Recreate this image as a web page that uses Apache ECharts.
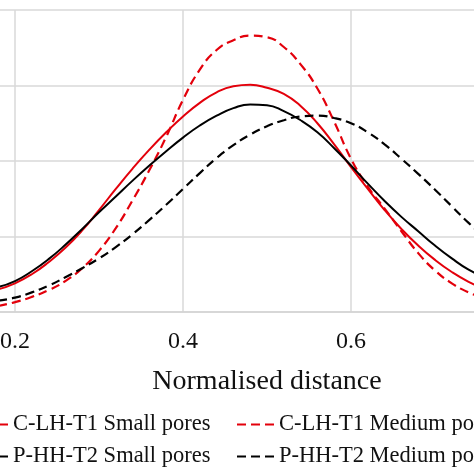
<!DOCTYPE html>
<html>
<head>
<meta charset="utf-8">
<script src="https://cdn.jsdelivr.net/npm/echarts@6/dist/echarts.min.js"></script>
<style>
  html, body { margin: 0; padding: 0; background: #fff; overflow: hidden; }
  #wrap { position: relative; width: 474px; height: 474px; overflow: hidden; }
  /* chart is wider than the window: the picture is a crop of it */
  #echartDom { position: absolute; left: -200px; top: 0; width: 950px; height: 474px; }
</style>
</head>
<body>
<div id="wrap"><div id="echartDom"></div></div>
<script>
// normalised distance
const xValues = [0.18, 0.20, 0.22, 0.24, 0.26, 0.28, 0.30, 0.32, 0.34, 0.36,
                 0.38, 0.40, 0.42, 0.44, 0.46, 0.48, 0.50, 0.52, 0.54, 0.56,
                 0.58, 0.60, 0.62, 0.64, 0.66, 0.68, 0.70, 0.72, 0.74, 0.76];
const clhSmall  = [0.30, 0.38, 0.50, 0.66, 0.85, 1.08, 1.35, 1.63, 1.90, 2.15,
                   2.38, 2.59, 2.77, 2.91, 2.99, 3.01, 2.97, 2.89, 2.73, 2.50,
                   2.22, 1.92, 1.63, 1.35, 1.10, 0.88, 0.69, 0.53, 0.40, 0.30];
const clhMedium = [0.08, 0.13, 0.20, 0.29, 0.41, 0.58, 0.81, 1.11, 1.48, 1.88,
                   2.32, 2.81, 3.21, 3.47, 3.60, 3.66, 3.64, 3.51, 3.28, 2.96,
                   2.52, 2.03, 1.66, 1.37, 1.07, 0.78, 0.55, 0.38, 0.26, 0.18];
const phhSmall  = [0.33, 0.41, 0.54, 0.70, 0.89, 1.10, 1.32, 1.53, 1.74, 1.94,
                   2.13, 2.31, 2.47, 2.60, 2.70, 2.75, 2.74, 2.66, 2.54, 2.38,
                   2.17, 1.94, 1.70, 1.47, 1.26, 1.07, 0.88, 0.71, 0.56, 0.45];
const phhMedium = [0.15, 0.19, 0.26, 0.35, 0.46, 0.58, 0.71, 0.86, 1.03, 1.22,
                   1.42, 1.63, 1.84, 2.04, 2.21, 2.35, 2.46, 2.54, 2.59, 2.60,
                   2.57, 2.50, 2.38, 2.22, 2.03, 1.83, 1.62, 1.40, 1.18, 0.98];

const seriesNames = ['C-LH-T1 Small pores', 'C-LH-T1 Medium pores',
                     'P-HH-T2 Small pores', 'P-HH-T2 Medium pores'];

const RED = '#e3000b';
const BLACK = '#000000';
const FONT = '"Liberation Serif", "Times New Roman", serif';
const DASH = [9, 5];

function pairs(ys) {
  return xValues.map((x, i) => [x, ys[i]]);
}

function lineSeries(name, ys, color, dashed) {
  return {
    name: name,
    type: 'line',
    data: pairs(ys),
    smooth: 0.5,
    symbol: 'none',
    itemStyle: { color: color },
    lineStyle: { color: color, width: dashed ? 2.2 : 2, type: dashed ? DASH : 'solid' }
  };
}

function legendAt(name, left, top) {
  return {
    data: [name],
    left: left, top: top,
    padding: 0,
    itemWidth: 37, itemHeight: 14,
    itemStyle: { opacity: 0 },   // line only, no dot in the icon
    textStyle: { fontFamily: FONT, fontSize: 22.5, color: '#111' }
  };
}

const chart = echarts.init(document.getElementById('echartDom'));

const option = {
  animation: false,
  backgroundColor: '#fff',
  grid: { left: 47, width: 840, top: 10, height: 302 },
  legend: [
    legendAt(seriesNames[0], 170, 413),
    legendAt(seriesNames[1], 436, 413),
    legendAt(seriesNames[2], 170, 445),
    legendAt(seriesNames[3], 436, 445)
  ],
  xAxis: {
    type: 'value',
    min: 0, max: 1, interval: 0.2,
    name: 'Normalised distance',
    nameLocation: 'middle',
    nameGap: 56,
    nameTextStyle: { fontFamily: FONT, fontSize: 28, color: '#111' },
    axisLine: { lineStyle: { color: '#d4d4d4', width: 1.5 } },
    axisTick: { show: false },
    axisLabel: { fontFamily: FONT, fontSize: 24, color: '#111', margin: 18,
                 formatter: v => v.toFixed(1) },
    splitLine: { show: true, lineStyle: { color: '#d9d9d9', width: 1.5 } }
  },
  yAxis: {
    type: 'value',
    min: 0, max: 4, interval: 1,
    axisLine: { show: false },
    axisTick: { show: false },
    axisLabel: { show: false },
    splitLine: { show: true, lineStyle: { color: '#d9d9d9', width: 1.5 } }
  },
  series: [
    lineSeries(seriesNames[0], clhSmall, RED, false),
    lineSeries(seriesNames[1], clhMedium, RED, true),
    lineSeries(seriesNames[2], phhSmall, BLACK, false),
    lineSeries(seriesNames[3], phhMedium, BLACK, true)
  ]
};

chart.setOption(option);
</script>
</body>
</html>
